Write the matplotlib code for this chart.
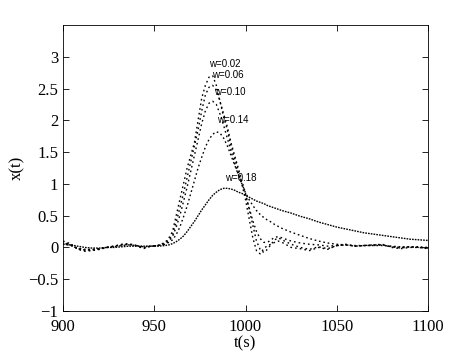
import numpy as np
import matplotlib
matplotlib.use('Agg')
import matplotlib.pyplot as plt

# common time grid (s)
t = np.array([900, 904, 908, 912, 916, 920, 924, 928, 932, 936, 940, 944, 948, 952, 956,
              958, 960, 962, 964, 966, 968, 970, 972, 974, 976, 978, 980, 982, 984, 986,
              988, 990, 992, 994, 996, 998, 1000, 1002, 1004, 1006, 1008, 1010, 1012, 1014,
              1016, 1018, 1020,
              1025, 1030, 1035, 1040, 1045, 1050, 1055, 1060, 1065, 1070, 1075, 1080, 1085,
              1090, 1095, 1100])

x_w002 = [0.10, 0.06, -0.03, -0.06, -0.05, -0.03, 0.00, 0.02, 0.05, 0.06, 0.03, -0.02, 0.02, 0.03, 0.08,
          0.15, 0.25, 0.50, 0.75, 1.00, 1.25, 1.45, 1.65, 2.00, 2.35, 2.55, 2.68, 2.70, 2.55, 2.30,
          2.05, 1.85, 1.60, 1.40, 1.20, 1.00, 0.75, 0.45, 0.15, -0.05, -0.10, -0.02, 0.03, 0.05,
          0.08, 0.10, 0.08,
          0.00, -0.02, -0.05, 0.00, -0.03, 0.03, 0.05, 0.02, 0.03, 0.04, 0.05, 0.00, -0.02,
          0.00, 0.00, -0.02]

x_w006 = [0.08, 0.05, -0.02, -0.05, -0.04, -0.03, 0.00, 0.02, 0.04, 0.05, 0.03, -0.01, 0.02, 0.03, 0.07,
          0.12, 0.20, 0.40, 0.62, 0.85, 1.10, 1.35, 1.60, 1.85, 2.15, 2.40, 2.52, 2.55, 2.48, 2.30,
          2.10, 1.90, 1.65, 1.45, 1.25, 1.05, 0.85, 0.60, 0.35, 0.10, -0.03, -0.08, -0.03, 0.05,
          0.12, 0.15, 0.12,
          0.05, 0.00, -0.03, 0.01, -0.02, 0.03, 0.04, 0.02, 0.03, 0.04, 0.04, 0.01, -0.01,
          0.01, 0.00, -0.01]

x_w010 = [0.07, 0.04, -0.02, -0.04, -0.04, -0.02, 0.00, 0.02, 0.04, 0.05, 0.03, 0.00, 0.02, 0.03, 0.06,
          0.10, 0.17, 0.32, 0.50, 0.72, 0.95, 1.20, 1.45, 1.70, 1.95, 2.15, 2.27, 2.30, 2.25, 2.10,
          1.92, 1.72, 1.52, 1.32, 1.15, 1.00, 0.82, 0.62, 0.42, 0.25, 0.14, 0.08, 0.08, 0.12,
          0.16, 0.17, 0.15,
          0.10, 0.07, 0.05, 0.04, 0.02, 0.03, 0.04, 0.02, 0.03, 0.03, 0.04, 0.01, 0.00,
          0.01, 0.00, -0.01]

x_w014 = [0.06, 0.03, -0.01, -0.03, -0.03, -0.02, 0.00, 0.01, 0.03, 0.04, 0.03, 0.01, 0.02, 0.03, 0.05,
          0.08, 0.12, 0.20, 0.32, 0.48, 0.65, 0.85, 1.05, 1.25, 1.42, 1.58, 1.70, 1.78, 1.82, 1.80,
          1.72, 1.60, 1.45, 1.30, 1.15, 1.00, 0.86, 0.75, 0.66, 0.58, 0.52, 0.47, 0.43, 0.40,
          0.36, 0.33, 0.30,
          0.24, 0.19, 0.14, 0.10, 0.07, 0.05, 0.04, 0.03, 0.03, 0.03, 0.03, 0.02, 0.01,
          0.01, 0.01, 0.00]

x_w018 = [0.05, 0.04, 0.02, 0.00, -0.01, -0.01, 0.00, 0.00, 0.01, 0.02, 0.02, 0.02, 0.02, 0.02, 0.03,
          0.04, 0.06, 0.09, 0.13, 0.18, 0.25, 0.33, 0.41, 0.50, 0.59, 0.67, 0.75, 0.82, 0.87, 0.91,
          0.93, 0.93, 0.92, 0.90, 0.87, 0.85, 0.82, 0.79, 0.76, 0.73, 0.71, 0.69, 0.66, 0.64,
          0.62, 0.60, 0.58,
          0.54, 0.49, 0.45, 0.40, 0.36, 0.32, 0.29, 0.26, 0.23, 0.21, 0.19, 0.17, 0.15,
          0.13, 0.12, 0.11]

labels = ['w=0.02', 'w=0.06', 'w=0.10', 'w=0.14', 'w=0.18']
label_t = [980.0, 981.8, 982.5, 984.4, 988.6]
label_x = [2.88, 2.72, 2.44, 2.00, 1.10]

series = [x_w002, x_w006, x_w010, x_w014, x_w018]
styles = [(0, (1.2, 2.2)), (0.8, (1.2, 2.2)), (1.6, (1.2, 2.2)), (0.4, (1.2, 2.0)), (0, (1.2, 0.8))]

plt.rcParams['font.family'] = ['Liberation Serif', 'DejaVu Serif']

fig = plt.figure(figsize=(4.74, 3.52), dpi=100)
ax = fig.add_axes([0.133, 0.1165, 0.770, 0.8125])

for xs, ls in zip(series, styles):
    ax.plot(t, xs, color='black', linestyle=ls, linewidth=1.0)

for lab, lt, lx in zip(labels, label_t, label_x):
    ax.text(lt, lx, lab, fontsize=7, family='Liberation Sans', va='center', ha='left')

ax.set_xlim(900, 1100)
ax.set_ylim(-1, 3.5)
ax.set_xticks([900, 950, 1000, 1050, 1100])
ax.set_yticks([-1, -0.5, 0, 0.5, 1, 1.5, 2, 2.5, 3])
ax.set_yticklabels(['\u22121', '\u22120.5', '0', '0.5', '1', '1.5', '2', '2.5', '3'])
ax.tick_params(direction='in', top=True, right=True, labelsize=12, length=4, width=0.6)
ax.tick_params(axis='x', pad=6)
for s in ax.spines.values():
    s.set_linewidth(0.6)
ax.set_xlabel('t(s)', fontsize=12, labelpad=0)
ax.set_ylabel('x(t)', fontsize=12, labelpad=2)

fig.savefig('out.png', dpi=100)
